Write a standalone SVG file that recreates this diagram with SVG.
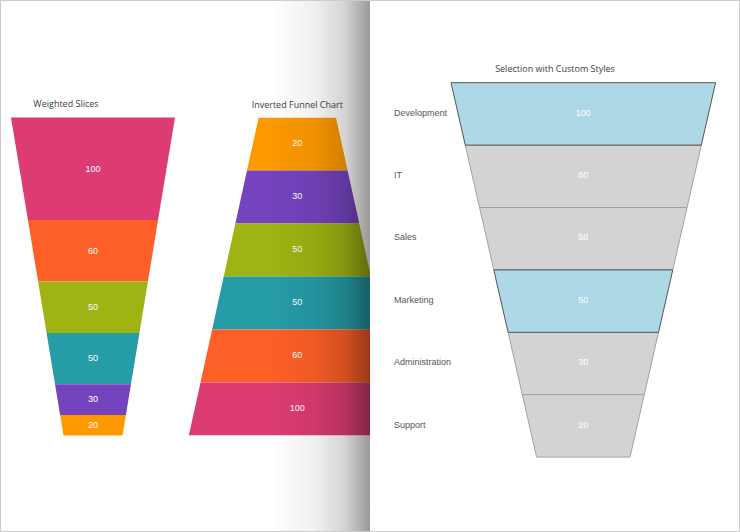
<svg xmlns="http://www.w3.org/2000/svg" width="740" height="532" viewBox="0 0 740 532">
  <style>
    .title { font-family: "Open Sans", "Liberation Sans", sans-serif; font-size: 9px; fill: #3d3d3d; text-anchor: middle; }
    .val { font-family: "Liberation Sans", Arial, sans-serif; font-size: 9px; fill: #fff; text-anchor: middle; }
    .lbl { font-family: "Liberation Sans", Arial, sans-serif; font-size: 9px; fill: #555; }
    .pink { fill: #dc3b73; }
    .red { fill: #fd5f26; }
    .olive { fill: #9fb312; }
    .teal { fill: #259ca6; }
    .purple { fill: #7443bd; }
    .orange { fill: #fe9900; }
    .gray { fill: #d3d3d3; stroke: #a3a3a3; stroke-width: 1; }
    .sel { fill: #add8e6; stroke: #555; stroke-width: 1; }
  </style>
  <defs>
    <linearGradient id="shadow" x1="0" y1="0" x2="1" y2="0">
      <stop offset="0" stop-color="#000" stop-opacity="0"/>
      <stop offset="0.45" stop-color="#000" stop-opacity="0.06"/>
      <stop offset="0.75" stop-color="#000" stop-opacity="0.17"/>
      <stop offset="1" stop-color="#000" stop-opacity="0.4"/>
    </linearGradient>
    <clipPath id="clipMid">
      <rect x="0" y="0" width="370" height="532"/>
    </clipPath>
  </defs>
  <rect x="0" y="0" width="740" height="532" fill="#fff"/>

  <!-- Weighted Slices -->
  <g id="chart-weighted">
    <text class="title" x="66" y="107">Weighted Slices</text>
    <g id="w-100"><polygon class="pink" points="11,117.5 175,117.5 158.06,220.1 27.94,220.1"/><text class="val" x="93" y="171.5">100</text></g>
    <g id="w-60"><polygon class="red" points="27.94,220.1 158.06,220.1 147.91,281.6 38.09,281.6"/><text class="val" x="93" y="253.5">60</text></g>
    <g id="w-50a"><polygon class="olive" points="38.09,281.6 147.91,281.6 139.44,332.9 46.56,332.9"/><text class="val" x="93" y="310">50</text></g>
    <g id="w-50b"><polygon class="teal" points="46.56,332.9 139.44,332.9 130.97,384.2 55.03,384.2"/><text class="val" x="93" y="361.3">50</text></g>
    <g id="w-30"><polygon class="purple" points="55.03,384.2 130.97,384.2 125.89,415 60.11,415"/><text class="val" x="93" y="402.3">30</text></g>
    <g id="w-20"><polygon class="orange" points="60.11,415 125.89,415 122.5,435.5 63.5,435.5"/><text class="val" x="93" y="428">20</text></g>
  </g>

  <!-- Inverted Funnel Chart -->
  <g id="chart-inverted" clip-path="url(#clipMid)">
    <text class="title" x="297.3" y="108">Inverted Funnel Chart</text>
    <g id="i-20"><polygon class="orange" points="258.6,117.7 336,117.7 347.61,170.6 246.99,170.6"/><text class="val" x="297.3" y="146.4">20</text></g>
    <g id="i-30"><polygon class="purple" points="246.99,170.6 347.61,170.6 359.25,223.6 235.35,223.6"/><text class="val" x="297.3" y="199.3">30</text></g>
    <g id="i-50a"><polygon class="olive" points="235.35,223.6 359.25,223.6 370.86,276.5 223.74,276.5"/><text class="val" x="297.3" y="252.3">50</text></g>
    <g id="i-50b"><polygon class="teal" points="223.74,276.5 370.86,276.5 382.47,329.4 212.13,329.4"/><text class="val" x="297.3" y="305.2">50</text></g>
    <g id="i-60"><polygon class="red" points="212.13,329.4 382.47,329.4 394.1,382.4 200.5,382.4"/><text class="val" x="297.3" y="358.1">60</text></g>
    <g id="i-100"><polygon class="pink" points="200.5,382.4 394.1,382.4 405.71,435.3 188.89,435.3"/><text class="val" x="297.3" y="411.1">100</text></g>
  </g>

  <!-- page curl shadow -->
  <rect x="270" y="0" width="100" height="532" fill="url(#shadow)"/>

  <!-- Selection with Custom Styles -->
  <g id="chart-selection">
    <text class="title" x="555" y="72">Selection with Custom Styles</text>
    <g id="s-it"><polygon class="gray" points="465.27,145.1 701.33,145.1 687.06,207.5 479.54,207.5"/><text class="val" x="583.3" y="178">60</text><text class="lbl" x="394" y="178">IT</text></g>
    <g id="s-sales"><polygon class="gray" points="479.54,207.5 687.06,207.5 672.79,269.9 493.81,269.9"/><text class="val" x="583.3" y="240.4">50</text><text class="lbl" x="394" y="240.4">Sales</text></g>
    <g id="s-admin"><polygon class="gray" points="508.08,332.3 658.52,332.3 644.25,394.7 522.35,394.7"/><text class="val" x="583.3" y="365.2">30</text><text class="lbl" x="394" y="365.2">Administration</text></g>
    <g id="s-support"><polygon class="gray" points="522.35,394.7 644.25,394.7 629.98,457.1 536.62,457.1"/><text class="val" x="583.3" y="427.6">20</text><text class="lbl" x="394" y="427.6">Support</text></g>
    <g id="s-dev"><polygon class="sel" points="451,82.7 715.6,82.7 701.33,145.1 465.27,145.1"/><text class="val" x="583.3" y="115.6">100</text><text class="lbl" x="394" y="115.6">Development</text></g>
    <g id="s-marketing"><polygon class="sel" points="493.81,269.9 672.79,269.9 658.52,332.3 508.08,332.3"/><text class="val" x="583.3" y="302.8">50</text><text class="lbl" x="394" y="302.8">Marketing</text></g>
  </g>

  <rect x="0.5" y="0.5" width="739" height="531" fill="none" stroke="#ccc" stroke-width="1"/>
</svg>
